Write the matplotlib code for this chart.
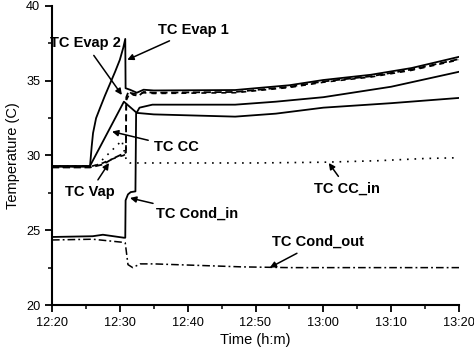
import matplotlib
matplotlib.use("Agg")
import matplotlib.pyplot as plt
from matplotlib.ticker import MultipleLocator

plt.rcParams['font.family'] = ['Liberation Sans', 'DejaVu Sans']

# time in minutes after 12:20
t_evap1 = [0, 5.6, 5.7, 5.85, 6.05, 6.5, 7.1, 7.8, 8.55, 9.3, 10.0, 10.5, 10.8, 10.85, 11.5, 12.5, 13.5, 15, 27, 35, 40, 47, 53, 60]
T_evap1 = [29.25, 29.25, 29.8, 30.6, 31.5, 32.5, 33.2, 34.0, 34.8, 35.6, 36.4, 37.2, 37.8, 34.5, 34.4, 34.2, 34.4, 34.35, 34.38, 34.7, 35.05, 35.4, 35.85, 36.6]

t_evap2 = [0, 5.6, 7.5, 9.0, 10.4, 10.9, 10.95, 11.3, 12.0, 12.8, 13.5, 15, 27, 35, 40, 47, 53, 60]
T_evap2 = [29.2, 29.2, 29.4, 29.8, 30.1, 30.2, 33.9, 34.3, 34.05, 34.0, 34.25, 34.2, 34.25, 34.6, 34.95, 35.3, 35.75, 36.45]

t_vap = [0, 6.0, 7.5, 8.5, 9.7, 10.5, 10.9, 10.95, 11.5, 12.5, 13.5, 15, 27, 35, 40, 47, 53, 60]
T_vap = [29.25, 29.3, 29.5, 29.7, 29.9, 30.0, 30.1, 33.7, 34.2, 34.1, 34.2, 34.15, 34.2, 34.55, 34.9, 35.25, 35.7, 36.4]

t_cc = [0, 5.6, 10.6, 12.5, 15, 27, 33, 40, 50, 60]
T_cc = [29.3, 29.3, 33.6, 32.85, 32.75, 32.6, 32.8, 33.2, 33.5, 33.85]

t_condin = [0, 6.0, 7.5, 10.6, 10.8, 10.85, 11.2, 11.6, 12.3, 12.4, 12.9, 14.8, 27, 33, 40, 50, 60]
T_condin = [24.55, 24.6, 24.7, 24.5, 24.5, 27.0, 27.4, 27.55, 27.6, 32.8, 33.2, 33.4, 33.4, 33.6, 33.9, 34.6, 35.6]

t_ccin = [0, 6.5, 10.3, 11.0, 11.5, 20, 30, 40, 48, 55, 60]
T_ccin = [29.3, 29.3, 31.0, 29.6, 29.5, 29.5, 29.5, 29.55, 29.65, 29.8, 29.85]

t_condout = [0, 6.0, 10.3, 10.8, 11.2, 11.9, 13.0, 15, 28, 35, 45, 60]
T_condout = [24.35, 24.4, 24.2, 24.15, 22.7, 22.5, 22.75, 22.75, 22.55, 22.5, 22.5, 22.5]

x_ticks = [0, 10, 20, 30, 40, 50, 60]
x_ticklabels = ['12:20', '12:30', '12:40', '12:50', '13:00', '13:10', '13:20']
y_ticks = [20, 25, 30, 35, 40]

fig = plt.figure(figsize=(4.74, 3.52), dpi=100)
ax = fig.add_axes([52/474, 1-305/352, (459-52)/474, (305-6)/352])

ax.plot(t_evap1, T_evap1, color='black', lw=1.3)
ax.plot(t_evap2, T_evap2, color='black', lw=1.3, dashes=(4, 2))
ax.plot(t_vap, T_vap, color='black', lw=1.2, dashes=(3, 3))
ax.plot(t_cc, T_cc, color='black', lw=1.3)
ax.plot(t_condin, T_condin, color='black', lw=1.3)
ax.plot(t_ccin, T_ccin, color='black', lw=1.2, dashes=(1, 3.5))
ax.plot(t_condout, T_condout, color='black', lw=1.1, dashes=(5, 2, 1.2, 2))

ax.set_xlim(0, 60)
ax.set_ylim(20, 40)
ax.set_xticks(x_ticks)
ax.set_xticklabels(x_ticklabels)
ax.set_yticks(y_ticks)
ax.xaxis.set_minor_locator(MultipleLocator(5))
ax.yaxis.set_minor_locator(MultipleLocator(2.5))
for s in ['top', 'right']:
    ax.spines[s].set_visible(False)
for s in ['left', 'bottom']:
    ax.spines[s].set_linewidth(1.5)
ax.tick_params(which='major', direction='out', length=5, width=1.3, labelsize=9.2)
ax.tick_params(which='minor', direction='out', length=3, width=1.1)

ax.set_xlabel('Time (h:m)', fontsize=10.5, labelpad=3)
ax.set_ylabel('Temperature (C)', fontsize=10.5, labelpad=4)

ap = dict(arrowstyle='-|>', color='black', lw=1.1, mutation_scale=9, shrinkA=2, shrinkB=0)
fs = 10.5
ann = [
    ('TC Evap 1', (11.1, 36.4), (20.9, 38.4)),
    ('TC Evap 2', (10.3, 34.05), (4.9, 37.5)),
    ('TC CC', (8.85, 31.6), (18.3, 30.57)),
    ('TC Vap', (8.4, 29.5), (5.6, 27.56)),
    ('TC Cond_in', (11.5, 27.16), (21.4, 26.1)),
    ('TC CC_in', (40.8, 29.5), (43.5, 27.8)),
    ('TC Cond_out', (32.1, 22.5), (39.2, 24.2)),
]
for txt, tip, pos in ann:
    ax.annotate(txt, xy=tip, xytext=pos, ha='center', va='center',
                fontsize=fs, fontweight='bold', arrowprops=ap)

fig.savefig('out.png', dpi=100)
